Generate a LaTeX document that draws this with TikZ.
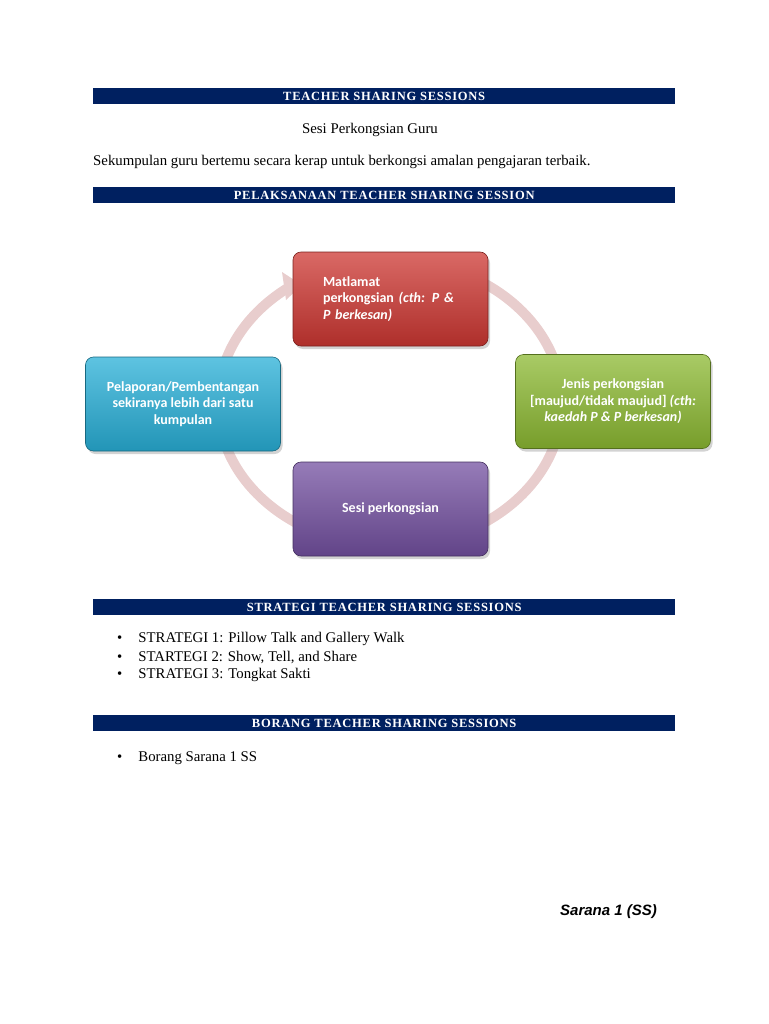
\documentclass[tikz,border=0pt]{standalone}
\usepackage{fontspec}
\setmainfont{Liberation Serif}
\newfontfamily\carlfont{Carlito}
\newfontfamily\arlfont{Liberation Sans}
\usetikzlibrary{arrows.meta,shadows}
\begin{document}
\begin{tikzpicture}[x=1pt,y=-1pt,
 banner/.style={fill={rgb,255:red,0;green,32;blue,96},minimum width=582pt,minimum height=16pt,inner sep=0pt,text=white,font=\fontsize{12.5}{14}\selectfont\bfseries,anchor=north west},
 box/.style={rounded corners=8pt,minimum width=195pt,minimum height=94pt,draw=#1!60!black,line width=0.6pt,text=white,font=\carlfont\fontsize{14}{16.5}\selectfont\bfseries,align=center,drop shadow={opacity=0.35,shadow xshift=2pt,shadow yshift=-3pt},top color=#1!75!white,bottom color=#1!85!black},
 body/.style={font=\fontsize{14.8}{17}\selectfont,anchor=west,inner sep=0pt}]
\useasboundingbox (0,0) rectangle (768,1024);
\definecolor{rd}{RGB}{205,55,50}\definecolor{gr}{RGB}{140,185,50}
\definecolor{pu}{RGB}{115,80,160}\definecolor{bl}{RGB}{40,175,215}
\definecolor{ring}{RGB}{232,205,205}
\node[banner] (b1) at (93,88) {\addfontfeature{LetterSpace=6}TEACHER SHARING SESSIONS};
\node[body,anchor=center] (t1) at (370,130) {Sesi Perkongsian Guru};
\node[body] (t2) at (93,162) {Sekumpulan guru bertemu secara kerap untuk berkongsi amalan pengajaran terbaik.};
\node[banner] (b2) at (93,187) {\addfontfeature{LetterSpace=6}PELAKSANAAN TEACHER SHARING SESSION};
% ring
\draw[ring,line width=10pt] (390,403) ellipse [x radius=172, y radius=143];
\fill[ring] (282,272) -- (302,285) -- (286,300) -- cycle;
\node[box=rd,align=left,text width=135pt] (m) at (390.5,299) {Matlamat\\perkongsian \textit{(cth: P \&}\\\textit{P berkesan)}};
\node[box=gr] (j) at (613,401.5) {Jenis perkongsian\\{[}maujud/tidak maujud] \textit{(cth:}\\\textit{kaedah P \& P berkesan)}};
\node[box=pu] (s) at (390.5,509) {Sesi perkongsian};
\node[box=bl] (p) at (183,404) {Pelaporan/Pembentangan\\sekiranya lebih dari satu\\kumpulan};
\node[banner] (b3) at (93,599) {\addfontfeature{LetterSpace=6}STRATEGI TEACHER SHARING SESSIONS};
\node[body] (l1) at (117,639) {\textbullet\hspace{16pt}STRATEGI 1: Pillow Talk and Gallery Walk};
\node[body] (l2) at (117,657) {\textbullet\hspace{16pt}STARTEGI 2: Show, Tell, and Share};
\node[body] (l3) at (117,675) {\textbullet\hspace{16pt}STRATEGI 3: Tongkat Sakti};
\node[banner] (b4) at (93,715) {\addfontfeature{LetterSpace=6}BORANG TEACHER SHARING SESSIONS};
\node[body] (l4) at (117,758) {\textbullet\hspace{16pt}Borang Sarana 1 SS};
\node[body,font=\arlfont\fontsize{15}{17}\selectfont\bfseries\itshape] (sr) at (560,912) {Sarana 1 (SS)};
\end{tikzpicture}
\end{document}
